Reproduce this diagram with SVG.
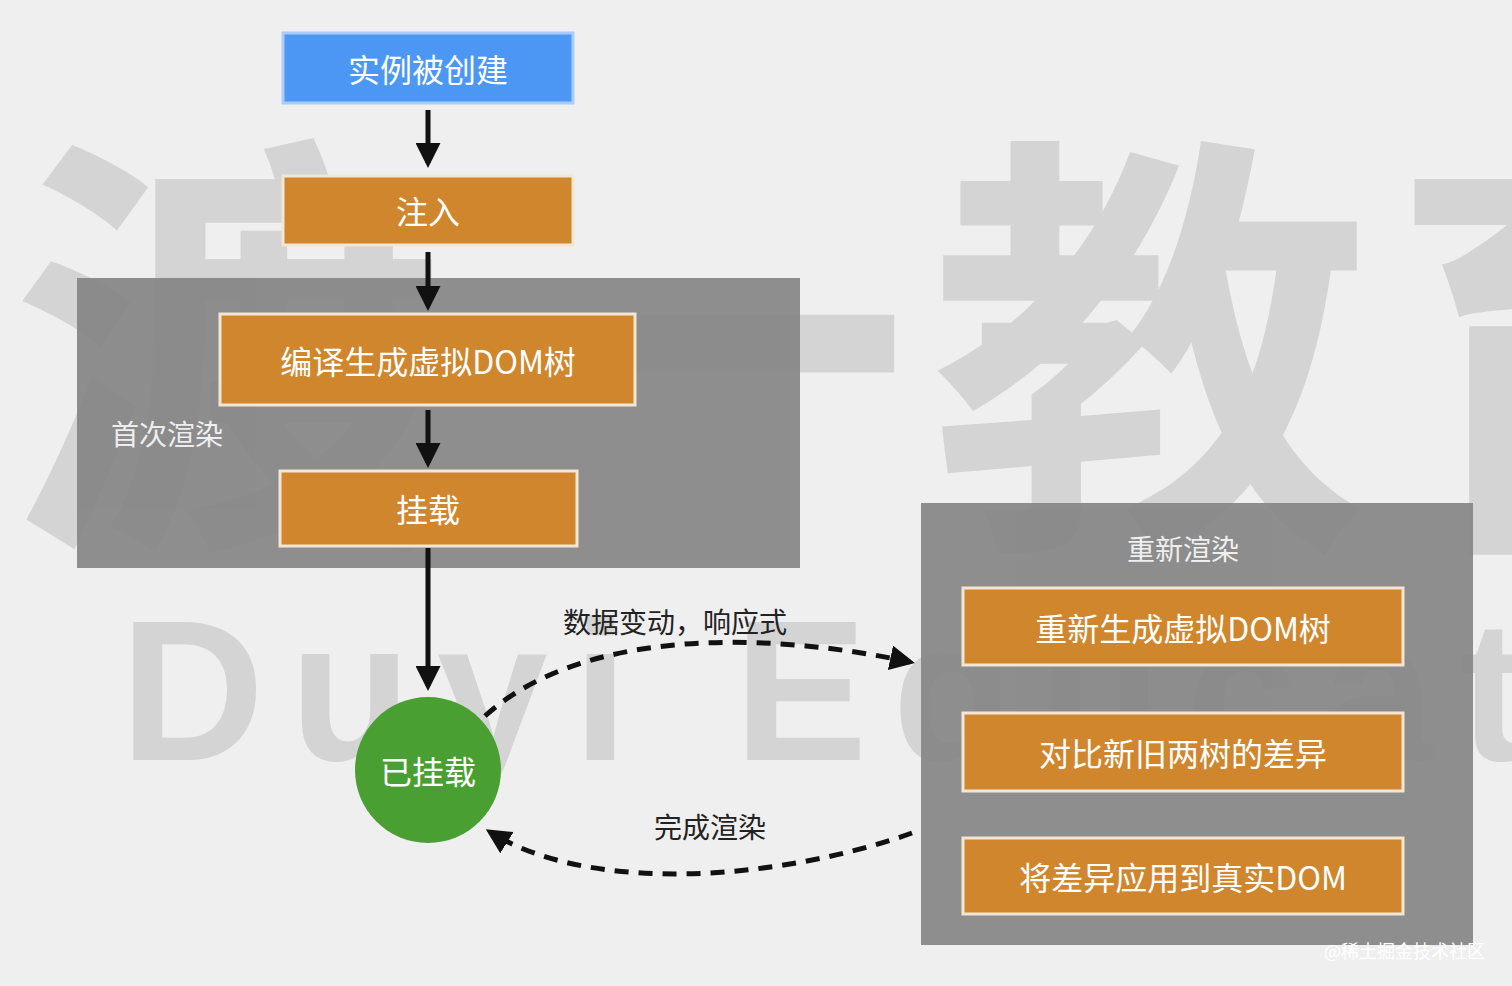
<svg xmlns="http://www.w3.org/2000/svg" width="1512" height="986" viewBox="0 0 1512 986">
<style>
.t{font-family:"Noto Sans CJK SC","Noto Sans",sans-serif;fill:#fff;text-anchor:middle;dominant-baseline:central}
.ob{fill:#cf862d;stroke:#f4e6d4;stroke-width:3}
.wm{font-family:"Noto Sans CJK SC",sans-serif;font-weight:bold;fill:#d4d4d4}
.c{fill:none;stroke:#111;stroke-width:5}
.d{fill:none;stroke:#111;stroke-width:5;stroke-dasharray:14 10}
</style>
<defs><marker id="a" viewBox="0 0 10 10" refX="8" refY="5" markerWidth="5" markerHeight="5" orient="auto" markerUnits="strokeWidth"><path d="M0,0L10,5L0,10z" fill="#111"/></marker></defs>
<rect width="1512" height="986" fill="#efefef"/>
<g id="watermark">
<text class="wm" x="10" y="515" font-size="440" letter-spacing="20">渡一教育</text>
<text class="wm" x="120" y="760" font-size="200" letter-spacing="25" style="font-family:'Liberation Sans',sans-serif">Duyi Education</text>
</g>
<g id="first" opacity="0.92"><rect x="77" y="278" width="723" height="290" fill="#858585"/><text class="t" x="167" y="433" font-size="28" style="fill:#f0f0f0">首次渲染</text></g>
<g id="re" opacity="0.92"><rect x="921" y="503" width="552" height="442" fill="#858585"/><text class="t" x="1183" y="548" font-size="28" style="fill:#f0f0f0">重新渲染</text></g>
<g id="n1"><rect x="283" y="33" width="290" height="70" fill="#4d97f4" stroke="#a9cdf8" stroke-width="3"/><text class="t" x="428" y="68" font-size="32">实例被创建</text></g>
<g id="n2"><rect class="ob" x="283" y="176" width="290" height="69"/><text class="t" x="428" y="210" font-size="32">注入</text></g>
<g id="n3"><rect class="ob" x="220" y="314" width="415" height="91"/><text class="t" x="428" y="360" font-size="32">编译生成虚拟DOM树</text></g>
<g id="n4"><rect class="ob" x="280" y="471" width="297" height="75"/><text class="t" x="428" y="508" font-size="32">挂载</text></g>
<g id="n5"><circle cx="428" cy="770" r="73" fill="#4a9f33"/><text class="t" x="428" y="770" font-size="32">已挂载</text></g>
<g id="n6"><rect class="ob" x="963" y="588" width="440" height="77"/><text class="t" x="1183" y="627" font-size="32">重新生成虚拟DOM树</text></g>
<g id="n7"><rect class="ob" x="963" y="713" width="440" height="78"/><text class="t" x="1183" y="752" font-size="32">对比新旧两树的差异</text></g>
<g id="n8"><rect class="ob" x="963" y="838" width="440" height="76"/><text class="t" x="1183" y="876" font-size="32">将差异应用到真实DOM</text></g>
<g id="connectors">
<path class="c" d="M428,110V163" marker-end="url(#a)"/>
<path class="c" d="M428,252V306" marker-end="url(#a)"/>
<path class="c" d="M428,410V463" marker-end="url(#a)"/>
<path class="c" d="M428,548V686" marker-end="url(#a)"/>
<path class="d" d="M485,716C580,630 760,630 910,662" marker-end="url(#a)"/>
<path class="d" d="M912,833C780,880 590,895 490,832" marker-end="url(#a)"/>
<text class="t" x="675" y="621" font-size="28" style="fill:#222">数据变动，响应式</text>
<text class="t" x="710" y="826" font-size="28" style="fill:#222">完成渲染</text>
</g>
<text x="1485" y="950" font-size="18" style="font-family:'Noto Sans CJK SC',sans-serif;fill:#fff;text-anchor:end;dominant-baseline:central">@稀土掘金技术社区</text>
</svg>
